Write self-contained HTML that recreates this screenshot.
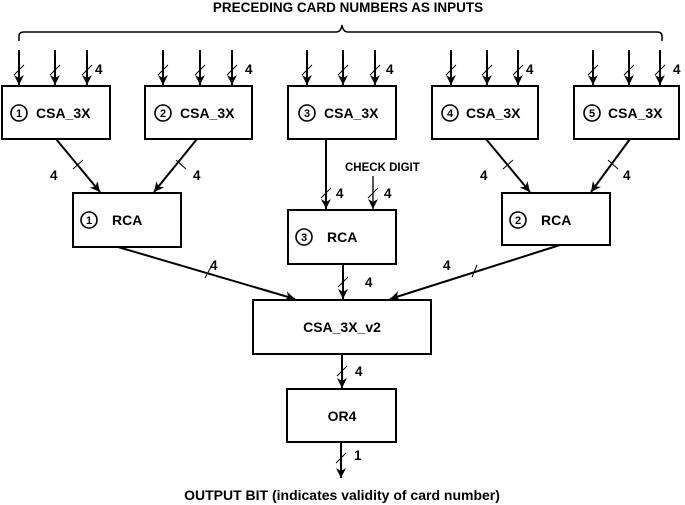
<!DOCTYPE html>
<html><head><style>
html,body{margin:0;padding:0;background:#fff}
svg{display:block}
text{font-family:"Liberation Sans",Arial,sans-serif;font-weight:bold;fill:#000}
</style></head><body>
<svg width="685" height="505" viewBox="0 0 685 505" xmlns="http://www.w3.org/2000/svg">
<defs>
<marker id="a" markerWidth="12" markerHeight="12" refX="10" refY="6" orient="auto" markerUnits="userSpaceOnUse">
<path d="M0,1 L10,6 L0,11 L3,6 Z" fill="#000"/>
</marker>
</defs>
<text x="348" y="12" font-size="13.5" text-anchor="middle">PRECEDING CARD NUMBERS AS INPUTS</text>
<path d="M19,41 V36 Q19,32 24,32 H336 Q341,32 342,25 Q343,32 348,32 H657 Q662,32 662,36 V41" fill="none" stroke="#000" stroke-width="1.5"/>
<g stroke="#000" stroke-width="2" fill="none">
<rect x="2" y="86" width="108" height="53"/>
<rect x="145" y="86" width="107" height="53"/>
<rect x="288" y="86" width="108" height="53"/>
<rect x="432" y="86" width="106" height="53"/>
<rect x="574" y="86" width="105" height="53"/>
<rect x="73" y="193" width="108" height="54"/>
<rect x="288" y="210" width="108" height="54"/>
<rect x="502" y="193" width="108" height="52"/>
<rect x="253" y="300" width="178" height="54"/>
<rect x="287" y="389" width="109" height="53"/>
</g>
<g stroke="#000" stroke-width="2" marker-end="url(#a)">
<line x1="19" y1="50" x2="19" y2="85"/><line x1="55" y1="50" x2="55" y2="85"/><line x1="87" y1="50" x2="87" y2="85"/>
<line x1="163" y1="50" x2="163" y2="85"/><line x1="200" y1="50" x2="200" y2="85"/><line x1="232" y1="50" x2="232" y2="85"/>
<line x1="307" y1="50" x2="307" y2="85"/><line x1="343" y1="50" x2="343" y2="85"/><line x1="375" y1="50" x2="375" y2="85"/>
<line x1="451" y1="50" x2="451" y2="85"/><line x1="487" y1="50" x2="487" y2="85"/><line x1="518" y1="50" x2="518" y2="85"/>
<line x1="593" y1="50" x2="593" y2="85"/><line x1="629" y1="50" x2="629" y2="85"/><line x1="660" y1="50" x2="660" y2="85"/>
<line x1="56" y1="139" x2="100" y2="192"/>
<line x1="197" y1="139" x2="154" y2="192"/>
<line x1="486" y1="139" x2="530" y2="192"/>
<line x1="630" y1="139" x2="591" y2="192"/>
<line x1="326" y1="139" x2="326" y2="209"/>
<line x1="373" y1="176" x2="373" y2="209" stroke-width="1.3"/>
<line x1="118" y1="247" x2="295" y2="299"/>
<line x1="560" y1="245" x2="390" y2="299"/>
<line x1="343" y1="264" x2="343" y2="299"/>
<line x1="342" y1="354" x2="342" y2="388"/>
<line x1="341" y1="442" x2="341" y2="478"/>
</g>
<g stroke="#000" stroke-width="1">
<line x1="14" y1="75" x2="24" y2="65"/><line x1="50" y1="75" x2="60" y2="65"/><line x1="82" y1="75" x2="92" y2="65"/>
<line x1="158" y1="75" x2="168" y2="65"/><line x1="195" y1="75" x2="205" y2="65"/><line x1="227" y1="75" x2="237" y2="65"/>
<line x1="302" y1="75" x2="312" y2="65"/><line x1="338" y1="75" x2="348" y2="65"/><line x1="370" y1="75" x2="380" y2="65"/>
<line x1="446" y1="75" x2="456" y2="65"/><line x1="482" y1="75" x2="492" y2="65"/><line x1="513" y1="75" x2="523" y2="65"/>
<line x1="588" y1="75" x2="598" y2="65"/><line x1="624" y1="75" x2="634" y2="65"/><line x1="655" y1="75" x2="665" y2="65"/>
<line x1="73" y1="169" x2="83" y2="160"/>
<line x1="176" y1="160" x2="186" y2="169"/>
<line x1="503" y1="169" x2="513" y2="160"/>
<line x1="608" y1="160" x2="618" y2="169"/>
<line x1="321" y1="198" x2="331" y2="188"/>
<line x1="368" y1="198" x2="378" y2="188"/>
<line x1="205" y1="278" x2="212" y2="265"/>
<line x1="472" y1="277" x2="477" y2="265"/>
<line x1="338" y1="287" x2="348" y2="277"/>
<line x1="337" y1="376" x2="347" y2="366"/>
<line x1="336" y1="463" x2="346" y2="453"/>
</g>
<g font-size="13.5">
<text x="95" y="74">4</text><text x="245" y="74">4</text><text x="386" y="74">4</text>
<text x="526" y="74">4</text><text x="673" y="74">4</text>
<text x="50" y="180">4</text><text x="193" y="180">4</text>
<text x="480" y="180">4</text><text x="623" y="180">4</text>
<text x="336" y="198">4</text><text x="384" y="198">4</text>
<text x="210" y="270">4</text><text x="443" y="270">4</text>
<text x="365" y="287">4</text><text x="355" y="376">4</text><text x="354" y="460">1</text>
<text x="345" y="171" font-size="11.5">CHECK DIGIT</text>
</g>
<g stroke="#000" stroke-width="1.6" fill="none">
<circle cx="19" cy="113" r="8"/><circle cx="163" cy="113" r="8"/><circle cx="307" cy="113" r="8"/>
<circle cx="450" cy="113" r="8"/><circle cx="592" cy="113" r="8"/>
<circle cx="89" cy="220" r="8"/><circle cx="304" cy="237" r="8"/><circle cx="518" cy="220" r="8"/>
</g>
<g font-size="11" text-anchor="middle">
<text x="19" y="117">1</text><text x="163" y="117">2</text><text x="307" y="117">3</text>
<text x="450" y="117">4</text><text x="592" y="117">5</text>
<text x="89" y="224">1</text><text x="304" y="241">3</text><text x="518" y="224">2</text>
</g>
<g font-size="14">
<text x="36" y="118">CSA_3X</text><text x="180" y="118">CSA_3X</text><text x="324" y="118">CSA_3X</text>
<text x="466" y="118">CSA_3X</text><text x="608" y="118">CSA_3X</text>
<text x="112" y="225">RCA</text><text x="327" y="242">RCA</text><text x="541" y="225">RCA</text>
</g>
<g font-size="14" text-anchor="middle">
<text x="342" y="332">CSA_3X_v2</text>
<text x="342" y="421">OR4</text>
<text x="342" y="500">OUTPUT BIT (indicates validity of card number)</text>
</g>
</svg>
</body></html>
